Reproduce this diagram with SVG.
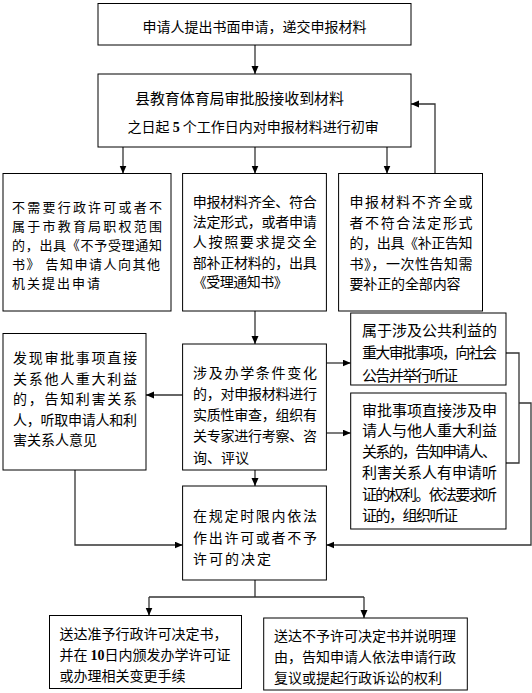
<svg xmlns="http://www.w3.org/2000/svg" width="532" height="693" viewBox="0 0 532 693">
<style>
.b{fill:#fff;stroke:#000;stroke-width:1}
.t{font-family:"Noto Sans CJK SC","Noto Sans CJK JP",sans-serif;font-size:14px;fill:#000}
.t15{font-size:15px}
.t13{font-size:13px}
.n{font-family:"Liberation Serif",serif;font-weight:bold}
.c{fill:none;stroke:#333;stroke-width:1.3}
.a{marker-end:url(#ah)}
</style>
<defs>
<marker id="ah" markerUnits="userSpaceOnUse" markerWidth="9" markerHeight="8" refX="8" refY="3.5" orient="auto">
<path d="M0,0 L8,3.5 L0,7 z" fill="#000"/>
</marker>
</defs>
<rect width="532" height="693" fill="#fff"/>

<g id="connectors">
<path class="c a" d="M255,45 V74"/>
<path class="c a" d="M123,147 V173.5"/>
<path class="c a" d="M255,147 V173.5"/>
<path class="c a" d="M387,147 V173.5"/>
<path class="c a" d="M435,173.5 V104 H411"/>
<path class="c a" d="M255,311 V344"/>
<path class="c a" d="M182.6,395 H146"/>
<path class="c a" d="M326.4,363 H350.7"/>
<path class="c a" d="M326.4,433 H350.7"/>
<path class="c" d="M506,353 H519 V463 H506"/>
<path class="c a" d="M519,403 H531 V545 H326.4"/>
<path class="c a" d="M75,470 V545 H182.6"/>
<path class="c a" d="M255,470 V486"/>
<path class="c" d="M255,580 V597"/>
<path class="c" d="M149,597 H364"/>
<path class="c a" d="M149,597 V615.5"/>
<path class="c a" d="M364,597 V618"/>
</g>

<g id="n1">
<rect class="b" x="98" y="3.5" width="313" height="41.5"/>
<text class="t" x="142.5" y="31.5">申请人提出书面申请，递交申报材料</text>
</g>

<g id="n2">
<rect class="b" x="98" y="74" width="313" height="73"/>
<text class="t t15" x="135" y="103.5" textLength="209" lengthAdjust="spacing">县教育体育局审批股接收到材料</text>
<text class="t" x="127.5" y="131.7">之日起 <tspan class="n">5</tspan> 个工作日内对申报材料进行初审</text>
</g>

<g id="n3">
<rect class="b" x="3" y="173.5" width="168" height="137.5"/>
<text class="t t13" x="12" y="211.7" textLength="150" lengthAdjust="spacing">不需要行政许可或者不</text>
<text class="t t13" x="12" y="230.7" textLength="150" lengthAdjust="spacing">属于市教育局职权范围</text>
<text class="t t13" x="12" y="249.7" textLength="150" lengthAdjust="spacing">的，出具《不予受理通知</text>
<text class="t t13" x="12" y="268.7" textLength="148" lengthAdjust="spacing">书》 告知申请人向其他</text>
<text class="t t13" x="12" y="287.7" textLength="88" lengthAdjust="spacing">机关提出申请</text>
</g>

<g id="n4">
<rect class="b" x="182.6" y="173.5" width="143.8" height="137.5"/>
<text class="t" x="192.7" y="207" textLength="124" lengthAdjust="spacing">申报材料齐全、符合</text>
<text class="t" x="192.7" y="227" textLength="124" lengthAdjust="spacing">法定形式，或者申请</text>
<text class="t" x="192.7" y="247" textLength="124" lengthAdjust="spacing">人按照要求提交全</text>
<text class="t" x="192.7" y="267.5" textLength="124" lengthAdjust="spacing">部补正材料的，出具</text>
<text class="t" x="192.7" y="287" textLength="95" lengthAdjust="spacing">《受理通知书》</text>
</g>

<g id="n5">
<rect class="b" x="338.6" y="173.5" width="143.9" height="137.5"/>
<text class="t" x="349.5" y="207" textLength="123" lengthAdjust="spacing">申报材料不齐全或</text>
<text class="t" x="349.5" y="228" textLength="123" lengthAdjust="spacing">者不符合法定形式</text>
<text class="t" x="349.5" y="248" textLength="123" lengthAdjust="spacing">的，出具《补正告知</text>
<text class="t" x="349.5" y="268.5" textLength="123" lengthAdjust="spacing">书》，一次性告知需</text>
<text class="t" x="349.5" y="289" textLength="111" lengthAdjust="spacing">要补正的全部内容</text>
</g>

<g id="n6">
<rect class="b" x="3" y="333.5" width="143" height="136.5"/>
<text class="t" x="13" y="363" textLength="124" lengthAdjust="spacing">发现审批事项直接</text>
<text class="t" x="13" y="383.5" textLength="124" lengthAdjust="spacing">关系他人重大利益</text>
<text class="t" x="13" y="404" textLength="124" lengthAdjust="spacing">的，告知利害关系</text>
<text class="t" x="13" y="425" textLength="124" lengthAdjust="spacing">人，听取申请人和利</text>
<text class="t" x="13" y="445">害关系人意见</text>
</g>

<g id="n7">
<rect class="b" x="182.6" y="344" width="143.8" height="126"/>
<text class="t" x="193" y="378" textLength="124" lengthAdjust="spacing">涉及办学条件变化</text>
<text class="t" x="193" y="399" textLength="124" lengthAdjust="spacing">的，对申报材料进行</text>
<text class="t" x="193" y="420" textLength="124" lengthAdjust="spacing">实质性审查，组织有</text>
<text class="t" x="193" y="441" textLength="124" lengthAdjust="spacing">关专家进行考察、咨</text>
<text class="t" x="193" y="462.5">询、评议</text>
</g>

<g id="n8">
<rect class="b" x="350.7" y="313" width="155.3" height="72"/>
<text class="t t15" x="362" y="335.5" textLength="135" lengthAdjust="spacing">属于涉及公共利益的</text>
<text class="t t15" x="362" y="358" textLength="135" lengthAdjust="spacing">重大审批事项，向社会</text>
<text class="t t15" x="362" y="380.5" textLength="96" lengthAdjust="spacing">公告并举行听证</text>
</g>

<g id="n9">
<rect class="b" x="350.7" y="393" width="155.3" height="136"/>
<text class="t t15" x="362" y="415.5" textLength="135" lengthAdjust="spacing">审批事项直接涉及申</text>
<text class="t t15" x="362" y="435.5" textLength="135" lengthAdjust="spacing">请人与他人重大利益</text>
<text class="t t15" x="362" y="457" textLength="135" lengthAdjust="spacing">关系的，告知申请人、</text>
<text class="t t15" x="362" y="478" textLength="135" lengthAdjust="spacing">利害关系人有申请听</text>
<text class="t t15" x="362" y="500" textLength="135" lengthAdjust="spacing">证的权利。依法要求听</text>
<text class="t t15" x="362" y="520.5" textLength="96" lengthAdjust="spacing">证的，组织听证</text>
</g>

<g id="n10">
<rect class="b" x="182.6" y="486" width="143.8" height="94"/>
<text class="t" x="193" y="521" textLength="124" lengthAdjust="spacing">在规定时限内依法</text>
<text class="t" x="193" y="543" textLength="124" lengthAdjust="spacing">作出许可或者不予</text>
<text class="t" x="193" y="563.5" textLength="78" lengthAdjust="spacing">许可的决定</text>
</g>

<g id="n11">
<rect class="b" x="49.5" y="615.5" width="192" height="73"/>
<text class="t" x="59.4" y="638.5">送达准予行政许可决定书，</text>
<text class="t" x="59.4" y="659.5">并在 <tspan class="n">10</tspan>日内颁发办学许可证</text>
<text class="t" x="59.4" y="680.5">或办理相关变更手续</text>
</g>

<g id="n12">
<rect class="b" x="263.7" y="618" width="203.6" height="72"/>
<text class="t" x="274" y="640.5">送达不予许可决定书并说明理</text>
<text class="t" x="274" y="661.5">由，告知申请人依法申请行政</text>
<text class="t" x="274" y="682.5">复议或提起行政诉讼的权利</text>
</g>
</svg>
